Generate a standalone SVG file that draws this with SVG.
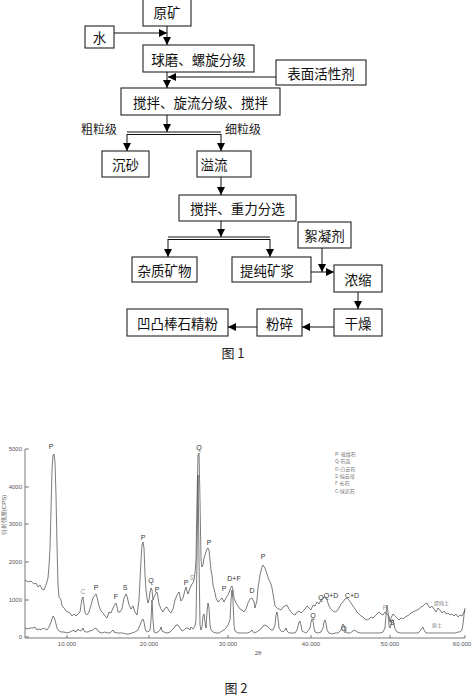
<svg xmlns="http://www.w3.org/2000/svg" width="474" height="698" viewBox="0 0 474 698">
<defs>
<marker id="ah" viewBox="0 0 10 10" refX="10" refY="5" markerWidth="8" markerHeight="8" markerUnits="userSpaceOnUse" orient="auto">
<path d="M0,0 L10,5 L0,10 Z" fill="#000"/>
</marker>
<style>
.box{fill:#fff;stroke:#222;stroke-width:1.1}
.t{font-family:"Noto Sans CJK SC","Noto Sans CJK JP",sans-serif;font-size:13.5px;fill:#111;text-anchor:middle;dominant-baseline:central}
.lbl{font-family:"Noto Sans CJK SC",sans-serif;font-size:12px;fill:#222;text-anchor:middle;dominant-baseline:central}
.ln{fill:none;stroke:#111;stroke-width:1}
.ar{fill:none;stroke:#111;stroke-width:1;marker-end:url(#ah)}
.cap{font-family:"Noto Sans CJK SC",sans-serif;font-size:13px;fill:#222;text-anchor:middle;dominant-baseline:central}
.ax{fill:none;stroke:#555;stroke-width:0.8}
.tk{font-family:"Liberation Sans",sans-serif;font-size:6px;fill:#555}
.pk{font-family:"Liberation Sans",sans-serif;font-size:7px;fill:#333;text-anchor:middle}
.pkg{font-family:"Liberation Sans",sans-serif;font-size:7px;fill:#999;text-anchor:middle}
.lg{font-family:"Noto Sans CJK SC",sans-serif;font-size:5px;fill:#777}
.cv{fill:none;stroke:#444;stroke-width:0.7;stroke-linejoin:round}
</style>
</defs>
<rect width="474" height="698" fill="#fff"/>

<g id="n-yuankuang"><rect class="box" x="143" y="-1" width="48" height="27"/><text class="t" x="167" y="12">原矿</text></g>
<g id="n-shui"><rect class="box" x="85" y="26" width="29" height="22"/><text class="t" x="99.5" y="37">水</text></g>
<g id="n-qiumo"><rect class="box" x="143" y="45" width="111" height="27"/><text class="t" x="198.5" y="58.5">球磨、螺旋分级</text></g>
<g id="n-biaomian"><rect class="box" x="276" y="60" width="90" height="25"/><text class="t" x="321" y="72.5">表面活性剂</text></g>
<g id="n-jiaoban1"><rect class="box" x="121" y="88" width="159" height="27"/><text class="t" x="200.5" y="101.5">搅拌、旋流分级、搅拌</text></g>
<g id="n-chensha"><rect class="box" x="102" y="151" width="47" height="26"/><text class="t" x="125.5" y="164">沉砂</text></g>
<g id="n-yiliu"><rect class="box" x="197" y="151" width="54" height="26"/><text class="t" x="214" y="164">溢流</text></g>
<g id="n-jiaoban2"><rect class="box" x="179" y="195" width="117" height="26"/><text class="t" x="237.5" y="208">搅拌、重力分选</text></g>
<g id="n-xuning"><rect class="box" x="298" y="222" width="53" height="26"/><text class="t" x="324.5" y="235">絮凝剂</text></g>
<g id="n-zazhi"><rect class="box" x="132" y="257" width="65" height="25"/><text class="t" x="164.5" y="269.5">杂质矿物</text></g>
<g id="n-tichun"><rect class="box" x="232" y="257" width="79" height="25"/><text class="t" x="267" y="269.5">提纯矿浆</text></g>
<g id="n-nongsuo"><rect class="box" x="334" y="265" width="48" height="27"/><text class="t" x="358" y="278.5">浓缩</text></g>
<g id="n-ganzao"><rect class="box" x="334" y="309" width="48" height="27"/><text class="t" x="358" y="322.5">干燥</text></g>
<g id="n-fensui"><rect class="box" x="257" y="309" width="45" height="27"/><text class="t" x="279.5" y="322.5">粉碎</text></g>
<g id="n-jingfen"><rect class="box" x="127" y="309" width="101" height="27"/><text class="t" x="177.5" y="322.5">凹凸棒石精粉</text></g>

<g id="connectors">
<path class="ar" d="M167,26 V45"/>
<path class="ar" d="M114,33 H167"/>
<path class="ar" d="M167,72 V88"/>
<path class="ar" d="M276,77 H168"/>
<path class="ar" d="M167,115 V132"/>
<path class="ln" d="M127,132 H221 M127,134.5 H221"/>
<path class="ar" d="M127,134 V151"/>
<path class="ar" d="M221,134 V151"/>
<path class="ar" d="M221,177 V195"/>
<path class="ar" d="M221,221 V237"/>
<path class="ln" d="M168,237 H270 M168,239.5 H270"/>
<path class="ar" d="M168,239 V257"/>
<path class="ar" d="M270,239 V257"/>
<path class="ar" d="M322,248 V272"/>
<path class="ar" d="M311,272 H334"/>
<path class="ar" d="M358,292 V309"/>
<path class="ar" d="M334,327 H302"/>
<path class="ar" d="M257,327 H228"/>
</g>
<text class="lbl" x="99" y="128">粗粒级</text>
<text class="lbl" x="243" y="128">细粒级</text>
<text class="cap" x="233" y="352">图 1</text>

<g id="chart">
<path class="ax" d="M25,449 V638 H465"/>
<path class="ax" d="M25,449 H29 M25,487 H29 M25,524 H29 M25,562 H29 M25,600 H29 M25,637 H29"/>
<path class="ax" d="M67,638 V635 M149,638 V635 M228,638 V635 M311,638 V635 M390,638 V635 M465,638 V635"/>
<g class="tk" text-anchor="end">
<text x="22" y="451">5000</text>
<text x="22" y="489">4000</text>
<text x="22" y="526">3000</text>
<text x="22" y="564">2000</text>
<text x="22" y="602">1000</text>
<text x="22" y="639">0</text>
</g>
<g class="tk" text-anchor="middle">
<text x="67" y="646">10.000</text>
<text x="149" y="646">20.000</text>
<text x="228" y="646">30.000</text>
<text x="311" y="646">40.000</text>
<text x="390" y="646">50.000</text>
<text x="462" y="646">60.000</text>
<text x="258" y="655">2θ</text>
</g>
<text class="tk" transform="translate(6,515) rotate(-90)" text-anchor="middle">衍射强度(CPS)</text>

<polyline class="cv" points="25,580 28,582 31,581 34,584 36,583 38,587 40,585 42,589 44,590 46,585 48,578 49,566 50,548 51,510 52,470 53,455 54,454 55,462 56,495 57,545 58,585 59,597 61,600 62,606 64,608 66,611 68,612 70,613 72,616 74,614 76,616 78,614 80,612 81,605 82,599 83,597 84,605 85,613 87,615 89,612 91,605 93,598 95,595 96,594 97,597 99,606 101,611 103,613 105,616 107,618 109,612 111,613 113,608 115,604 116,603 117,607 118,612 120,612 122,609 124,598 126,594 127,596 129,605 131,609 133,606 135,612 137,615 139,600 140,580 141,560 142,545 143,542 144,548 145,575 146,590 147,598 148,603 149,600 150,592 151,588 152,590 153,600 154,597 156,593 157,592 158,597 159,604 161,609 163,612 165,608 167,607 169,611 171,613 173,609 175,600 177,595 179,592 181,601 183,598 185,590 186,587 187,591 188,594 190,588 192,584 193,583 194,580 195,573 196,560 197,500 198,455 199,453 200,500 201,560 202,567 203,565 204,558 206,552 207,549 208,548 209,550 210,560 211,570 212,575 213,585 215,593 216,598 218,602 220,600 222,598 224,602 226,598 228,595 230,590 231,587 232,586 233,590 234,598 236,603 238,606 240,609 242,610 244,612 246,609 248,603 250,599 252,598 254,602 255,608 257,600 258,588 260,575 262,567 263,565 265,568 267,574 269,580 271,584 272,588 273,594 274,600 275,606 277,608 279,609 281,610 283,607 285,606 287,605 289,609 291,612 293,614 295,615 297,612 299,611 301,613 303,611 305,609 307,606 309,608 311,610 313,605 315,606 317,602 319,604 321,600 323,598 325,597 327,600 329,606 331,609 333,611 335,612 337,611 339,608 341,604 343,602 345,599 347,598 349,600 351,603 353,606 355,609 357,612 359,614 361,616 363,617 365,619 367,620 369,619 371,617 373,618 375,616 377,614 379,612 381,614 383,615 385,612 387,614 389,616 390,622 391,618 393,614 395,616 397,618 399,620 401,618 403,619 405,617 407,616 409,615 411,613 413,612 415,611 417,610 419,609 421,607 423,606 425,604 427,603 428,605 430,608 432,606 434,609 436,612 438,608 440,610 442,613 444,611 446,614 448,613 450,615 452,614 454,616 456,614 458,617 460,615 462,616 464,612 465,610"/>
<polyline class="cv" points="25,628 28,629 30,628 33,628 35,627 37,630 39,629 41,630 43,628 45,629 47,630 49,627 51,622 52,619 53,616 54,617 55,620 56,624 57,628 59,631 61,632 64,632 67,633 70,632 72,631 74,630 75,632 77,631 78,629 80,631 82,630 83,628 84,631 86,632 88,632 90,631 93,630 95,628 97,629 99,632 102,633 105,632 108,633 110,633 112,631 113,630 114,632 117,633 120,633 123,633 126,634 129,634 132,633 135,632 138,630 140,625 142,620 143,619 144,622 145,628 146,631 148,632 150,630 151,620 152,600 153,620 154,632 156,633 158,632 160,630 161,627 162,631 164,632 167,633 170,632 172,630 174,628 176,625 178,625 180,628 182,631 184,630 186,628 188,628 190,630 191,627 192,628 193,629 195,626 196,620 197,560 198,475 199,560 200,625 201,630 202,627 203,616 204,614 205,622 206,628 207,612 208,603 209,608 210,625 211,630 213,632 216,633 219,633 222,631 224,630 226,628 228,625 230,620 231,600 232,590 233,600 234,625 235,631 238,633 241,633 244,633 247,633 250,632 252,630 253,632 255,633 258,631 261,629 263,626 265,625 267,626 269,628 271,630 273,630 275,625 276,615 277,612 278,618 279,628 281,631 283,632 285,630 286,628 287,631 289,633 292,633 295,633 297,630 299,622 300,621 301,625 302,631 304,632 306,633 308,631 310,628 311,622 312,619 313,621 314,628 315,632 318,633 321,632 323,628 324,622 325,620 326,623 327,630 329,633 332,634 335,633 338,633 341,630 342,626 343,624 344,626 345,630 347,633 350,633 353,631 355,630 357,632 360,633 365,633 370,633 375,633 380,633 383,632 385,628 386,615 387,605 388,612 389,626 390,628 391,625 392,620 393,620 394,624 395,629 397,632 400,633 405,633 410,633 415,633 418,633 420,631 422,628 423,627 424,630 426,633 430,633 435,633 440,633 445,633 450,633 455,633 458,632 460,632 462,630 463,624 464,615 465,608"/>

<text class="pk" x="51" y="449">P</text>
<text class="pk" x="199" y="450">Q</text>
<text class="pk" x="143" y="540">P</text>
<text class="pk" x="209" y="545">P</text>
<text class="pkg" x="83" y="594">C</text>
<text class="pk" x="96" y="590">P</text>
<text class="pk" x="116" y="599">F</text>
<text class="pk" x="125" y="590">S</text>
<text class="pk" x="151" y="583">Q</text>
<text class="pk" x="157" y="592">P</text>
<text class="pk" x="186" y="585">P</text>
<text class="pkg" x="192" y="580">S</text>
<text class="pk" x="224" y="591">P</text>
<text class="pk" x="234" y="581">D+F</text>
<text class="pk" x="252" y="593">D</text>
<text class="pk" x="263" y="559">P</text>
<text class="pk" x="321" y="600">Q</text>
<text class="pk" x="331" y="598">Q+D</text>
<text class="pk" x="352" y="598">C+D</text>
<text class="pk" x="313" y="618">Q</text>
<text class="pk" x="344" y="631">Q</text>
<text class="pkg" x="385" y="610">F</text>
<text class="pk" x="392" y="625">S</text>
<text class="lg" x="434" y="605">提纯土</text>
<text class="lg" x="432" y="627">原土</text>

<g class="lg">
<text x="335" y="456">P- 坡缕石</text>
<text x="335" y="463.3">Q-石英</text>
<text x="335" y="470.6">D-白云石</text>
<text x="335" y="477.9">S-绢云母</text>
<text x="335" y="485.2">F-长石</text>
<text x="335" y="492.5">C-绿泥石</text>
</g>
</g>
<text class="cap" x="236" y="687">图 2</text>
</svg>
